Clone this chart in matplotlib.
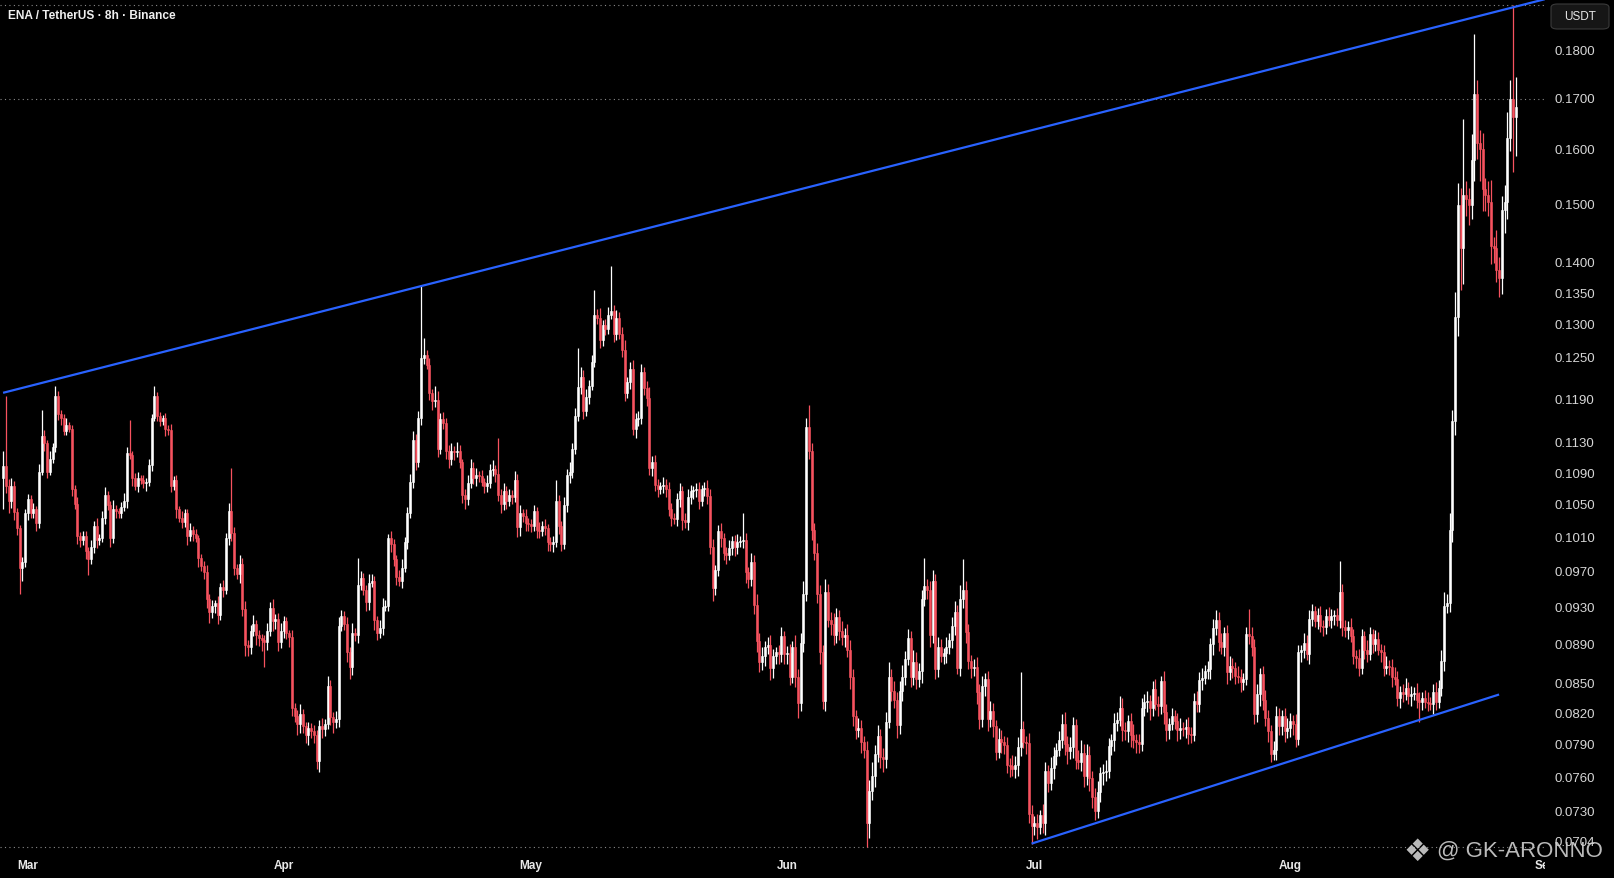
import numpy as np
import matplotlib
matplotlib.use('Agg')
import matplotlib.pyplot as plt
from matplotlib.patches import FancyBboxPatch
from matplotlib.transforms import blended_transform_factory

# ENA/USDT 8h candles, 26 Feb -> 28 Aug, prices in units of 0.0001 USDT
open_first = 1085

close_feb = [1100, 1075, 1055, 1075, 1042, 1022, 975, 982, 1040]
close_mar = [1058, 1040, 1045, 1028, 1093, 1140, 1130, 1093, 1110, 1125,
             1195, 1170, 1165, 1147, 1155, 1150, 1070, 1052, 1013, 1008,
             1013, 995, 985, 1000, 1025, 1008, 1010, 1035, 1063, 1050,
             1010, 1045, 1043, 1040, 1048, 1055, 1117, 1115, 1085, 1075,
             1085, 1082, 1078, 1080, 1102, 1165, 1195, 1168, 1160, 1165,
             1150, 1148, 1075, 1082, 1045, 1035, 1030, 1040, 1012, 1020,
             1015, 1010, 986, 977, 970, 940, 925, 932, 935, 922,
             953, 950, 1010, 1043, 1016, 975, 968, 980, 929, 890,
             888, 905, 912, 900, 897, 895, 893, 905, 930, 915,
             918, 893, 905]
close_apr = [915, 902, 898, 826, 818, 810, 820, 808, 800, 806,
             803, 800, 775, 808, 805, 810, 848, 817, 812, 815,
             910, 921, 912, 882, 867, 903, 900, 955, 963, 950,
             936, 958, 960, 916, 903, 908, 931, 932, 1010, 1003,
             985, 965, 960, 975, 1005, 1040, 1080, 1135, 1105, 1165,
             1250, 1255, 1240, 1200, 1188, 1190, 1122, 1163, 1158, 1120,
             1110, 1120, 1118, 1120, 1105, 1063, 1058, 1078, 1098, 1085,
             1088, 1087, 1080, 1075, 1078, 1095, 1096, 1090, 1063, 1052,
             1068, 1055, 1063, 1060, 1082, 1023, 1040, 1037, 1028, 1027]
close_may = [1025, 1043, 1020, 1018, 1025, 1022, 1005, 1003, 1005, 1055,
             1025, 1003, 1050, 1088, 1093, 1122, 1168, 1208, 1223, 1175,
             1194, 1210, 1245, 1316, 1312, 1277, 1300, 1295, 1316, 1322,
             1287, 1312, 1287, 1262, 1200, 1215, 1235, 1150, 1163, 1165,
             1230, 1207, 1193, 1097, 1105, 1076, 1070, 1074, 1076, 1070,
             1045, 1035, 1033, 1058, 1068, 1032, 1030, 1060, 1068, 1069,
             1070, 1055, 1070, 1072, 1062, 999, 952, 972, 1018, 1010,
             992, 990, 998, 1006, 999, 1005, 1006, 1008, 970, 962,
             982, 933, 894, 872, 878, 888, 890, 866, 878, 882,
             880, 899, 880]
close_jun = [881, 857, 888, 857, 831, 892, 945, 1152, 1120, 1020,
             992, 945, 882, 833, 947, 917, 912, 900, 920, 905,
             898, 900, 885, 857, 818, 804, 806, 793, 786, 720,
             748, 762, 782, 799, 779, 777, 812, 857, 843, 834,
             809, 843, 857, 875, 897, 857, 872, 855, 863, 940,
             954, 950, 900, 960, 865, 888, 878, 881, 888, 895,
             910, 925, 866, 940, 950, 904, 873, 866, 867, 842,
             815, 848, 855, 815, 823, 808, 784, 796, 793, 790,
             772, 771, 768, 772, 788, 805, 793, 792, 728, 718]
close_jul = [720, 717, 727, 720, 766, 755, 769, 780, 786, 795,
             810, 791, 785, 788, 809, 776, 774, 783, 762, 781,
             760, 743, 731, 747, 764, 765, 766, 789, 795, 811,
             814, 826, 804, 803, 813, 800, 795, 793, 791, 826,
             832, 833, 826, 845, 830, 828, 853, 822, 804, 810,
             818, 813, 804, 806, 805, 807, 801, 800, 833, 830,
             854, 856, 863, 865, 891, 908, 917, 893, 888, 903,
             862, 868, 866, 858, 857, 852, 855, 901, 899, 888,
             820, 840, 860, 834, 816, 803, 782, 786, 818, 808,
             818, 803, 806]
close_aug = [813, 810, 796, 882, 884, 892, 880, 918, 926, 915,
             922, 910, 909, 921, 916, 921, 922, 916, 947, 909,
             906, 909, 899, 878, 876, 866, 899, 885, 880, 901,
             891, 896, 885, 882, 866, 868, 867, 857, 855, 836,
             842, 840, 846, 838, 840, 841, 834, 832, 836, 832,
             831, 830, 842, 832, 846, 873, 932, 935, 1020, 1161,
             1313, 1500, 1425, 1518, 1510, 1500, 1582, 1710, 1614, 1603,
             1528, 1518, 1505, 1428, 1425, 1389, 1375, 1490, 1505, 1624,
             1700, 1664, 1684]

# wick length above / below the body, same units
up_feb = [20, 95, 8, 10, 6, 5, 4, 6, 5]
dn_feb = [40, 10, 15, 8, 10, 8, 30, 15, 6]
up_mar = [6, 5, 8, 4, 10, 36, 8, 5, 10, 6,
          15, 8, 6, 5, 10, 4, 5, 6, 8, 4,
          6, 5, 4, 8, 6, 10, 5, 8, 10, 5,
          6, 12, 5, 4, 6, 10, 8, 45, 5, 6,
          8, 4, 6, 5, 8, 5, 15, 6, 5, 4,
          6, 5, 8, 5, 6, 4, 8, 6, 5, 8,
          5, 6, 4, 5, 6, 8, 5, 6, 4, 8,
          5, 8, 6, 10, 54, 8, 5, 10, 6, 8,
          5, 6, 10, 5, 6, 4, 5, 8, 6, 10,
          5, 6, 8]
dn_mar = [8, 6, 5, 10, 6, 5, 10, 8, 5, 6,
          6, 8, 10, 5, 6, 5, 8, 6, 10, 8,
          6, 10, 18, 6, 8, 10, 6, 5, 8, 6,
          10, 6, 8, 5, 6, 5, 8, 6, 10, 6,
          8, 5, 6, 10, 6, 8, 5, 8, 6, 5,
          10, 6, 8, 6, 10, 5, 8, 6, 10, 6,
          8, 5, 10, 6, 8, 10, 12, 6, 8, 10,
          6, 8, 5, 8, 10, 8, 6, 10, 8, 12,
          10, 8, 6, 10, 8, 12, 26, 8, 6, 10,
          8, 10, 6]
up_apr = [6, 5, 4, 8, 5, 6, 10, 5, 4, 6,
          5, 6, 4, 6, 8, 5, 10, 6, 5, 8,
          10, 6, 5, 8, 6, 10, 5, 32, 8, 6,
          5, 10, 8, 6, 5, 8, 10, 6, 5, 8,
          6, 5, 8, 10, 6, 8, 10, 12, 8, 10,
          112, 25, 8, 10, 6, 20, 12, 8, 10, 6,
          8, 10, 6, 12, 8, 5, 8, 10, 12, 8,
          10, 6, 8, 5, 10, 8, 12, 6, 48, 8,
          10, 6, 8, 6, 12, 8, 10, 6, 8, 6]
dn_apr = [8, 6, 10, 8, 6, 10, 8, 6, 8, 10,
          6, 8, 7, 10, 8, 6, 5, 8, 10, 6,
          8, 5, 6, 10, 12, 8, 6, 8, 5, 6,
          10, 8, 5, 10, 8, 6, 8, 5, 6, 10,
          8, 10, 6, 8, 5, 8, 6, 8, 10, 6,
          10, 8, 6, 10, 12, 8, 10, 6, 8, 10,
          12, 8, 10, 6, 8, 10, 12, 8, 6, 8,
          10, 8, 6, 10, 8, 6, 8, 10, 8, 12,
          8, 10, 6, 8, 6, 12, 10, 8, 10, 8]
up_may = [6, 8, 5, 10, 6, 8, 5, 6, 8, 27,
          8, 6, 10, 8, 12, 8, 10, 57, 15, 10,
          12, 8, 10, 40, 10, 15, 8, 10, 12, 73,
          10, 12, 8, 10, 15, 8, 10, 12, 8, 10,
          12, 8, 10, 15, 8, 10, 8, 6, 10, 8,
          10, 8, 6, 8, 10, 6, 8, 10, 8, 6,
          8, 10, 6, 8, 10, 8, 10, 6, 8, 10,
          6, 8, 10, 6, 8, 10, 6, 33, 8, 6,
          10, 8, 12, 8, 10, 6, 8, 10, 8, 6,
          8, 10, 6]
dn_may = [8, 6, 10, 8, 6, 8, 10, 8, 10, 6,
          10, 8, 6, 8, 10, 8, 6, 8, 10, 12,
          8, 10, 6, 8, 10, 12, 8, 10, 8, 6,
          12, 10, 8, 10, 12, 8, 10, 8, 12, 10,
          8, 10, 12, 8, 10, 8, 10, 6, 8, 10,
          8, 10, 6, 8, 10, 12, 8, 10, 8, 10,
          8, 10, 6, 8, 10, 8, 15, 8, 6, 10,
          8, 10, 6, 8, 10, 8, 6, 8, 12, 10,
          8, 10, 12, 10, 8, 10, 8, 12, 10, 8,
          10, 8, 10]
up_jun = [8, 10, 6, 12, 8, 10, 15, 12, 31, 10,
          8, 12, 10, 8, 15, 10, 8, 12, 10, 8,
          10, 8, 12, 10, 8, 6, 10, 8, 6, 8,
          10, 12, 8, 10, 6, 8, 10, 15, 8, 10,
          8, 10, 12, 8, 10, 8, 12, 10, 8, 10,
          32, 8, 10, 12, 8, 10, 8, 6, 10, 8,
          10, 12, 8, 15, 35, 10, 8, 6, 8, 10,
          8, 10, 6, 8, 10, 8, 6, 10, 8, 6,
          8, 6, 10, 8, 10, 57, 8, 6, 10, 8]
dn_jun = [10, 8, 6, 10, 15, 8, 10, 8, 10, 12,
          8, 10, 12, 8, 10, 8, 12, 10, 8, 10,
          8, 10, 8, 12, 10, 8, 6, 10, 8, 20,
          12, 8, 10, 8, 10, 12, 8, 6, 10, 8,
          12, 8, 10, 8, 6, 10, 8, 10, 8, 12,
          8, 10, 12, 8, 10, 8, 6, 8, 10, 8,
          8, 10, 6, 8, 10, 12, 8, 10, 8, 12,
          10, 8, 10, 12, 8, 10, 8, 6, 10, 8,
          8, 10, 6, 8, 10, 8, 6, 10, 8, 15]
up_jul = [6, 8, 5, 10, 8, 6, 10, 8, 6, 8,
          10, 12, 8, 10, 8, 6, 10, 12, 8, 10,
          8, 6, 8, 10, 6, 8, 10, 8, 6, 10,
          8, 12, 10, 8, 6, 8, 10, 6, 8, 10,
          8, 10, 6, 8, 10, 8, 5, 10, 8, 6,
          8, 6, 8, 10, 6, 8, 10, 6, 8, 10,
          8, 10, 6, 8, 6, 10, 11, 8, 10, 6,
          8, 10, 8, 6, 10, 8, 6, 8, 28, 10,
          8, 10, 6, 8, 10, 8, 6, 8, 10, 8,
          6, 8, 10]
dn_jul = [8, 10, 6, 8, 10, 8, 6, 10, 8, 6,
          8, 10, 12, 8, 10, 8, 6, 8, 10, 8,
          12, 10, 8, 6, 8, 10, 8, 6, 8, 10,
          8, 6, 10, 8, 10, 12, 8, 10, 8, 6,
          8, 10, 12, 8, 6, 10, 8, 12, 10, 8,
          6, 8, 10, 8, 6, 8, 10, 8, 6, 8,
          8, 10, 6, 8, 10, 12, 8, 10, 8, 10,
          12, 8, 10, 8, 6, 10, 8, 6, 8, 10,
          10, 8, 12, 10, 8, 10, 8, 6, 10, 8,
          8, 10, 6]
up_aug = [8, 6, 10, 8, 6, 10, 8, 10, 8, 6,
          8, 10, 6, 8, 10, 8, 6, 8, 36, 10,
          8, 6, 10, 8, 6, 10, 8, 6, 10, 8,
          6, 10, 8, 6, 8, 10, 6, 8, 10, 8,
          6, 8, 10, 6, 8, 6, 10, 8, 6, 8,
          10, 6, 8, 10, 8, 12, 15, 10, 20, 15,
          40, 40, 30, 142, 25, 20, 50, 126, 30, 25,
          30, 20, 25, 40, 15, 30, 20, 25, 30, 50,
          40, 200, 61]
dn_aug = [8, 10, 8, 6, 10, 8, 6, 10, 8, 6,
          8, 6, 10, 8, 6, 8, 10, 6, 8, 10,
          8, 10, 6, 8, 10, 8, 6, 10, 8, 6,
          10, 8, 6, 10, 8, 6, 8, 10, 6, 8,
          10, 8, 6, 8, 10, 6, 8, 20, 8, 6,
          8, 6, 10, 8, 6, 8, 10, 8, 10, 15,
          20, 30, 70, 60, 30, 36, 25, 40, 30, 60,
          40, 30, 25, 30, 25, 20, 30, 25, 40, 30,
          25, 104, 74]

month_names = ['Mar', 'Apr', 'May', 'Jun', 'Jul', 'Aug', 'Sep']
month_days = [31, 30, 31, 30, 31, 31]

price_ticks = [0.18, 0.17, 0.16, 0.15, 0.14, 0.135, 0.13, 0.125, 0.119, 0.113,
               0.109, 0.105, 0.101, 0.097, 0.093, 0.089, 0.085, 0.082, 0.079,
               0.076, 0.073, 0.0704]

# trendlines (candle index, price) and dotted price lines
upper_x, upper_y = [0, 565], [0.1200, 0.1921]
lower_x, lower_y = [374, 544], [0.0703, 0.0839]
dotted_prices = [0.1900, 0.1700, 0.0700]

closes = np.concatenate([close_feb, close_mar, close_apr, close_may,
                         close_jun, close_jul, close_aug]) / 1e4
up = np.concatenate([up_feb, up_mar, up_apr, up_may, up_jun, up_jul, up_aug]) / 1e4
dn = np.concatenate([dn_feb, dn_mar, dn_apr, dn_may, dn_jun, dn_jul, dn_aug]) / 1e4
opens = np.r_[open_first / 1e4, closes[:-1]]
highs = np.maximum(opens, closes) + up
lows = np.minimum(opens, closes) - dn
x = np.arange(len(closes))

UP = '#FFFFFF'
DOWN = '#F7525F'
BLUE = '#2962FF'
cols = np.where(closes >= opens, UP, DOWN)

W, H = 1614, 879
fig = plt.figure(figsize=(W / 100, H / 100), dpi=100, facecolor='black')
ax = fig.add_axes([0, 0, 1545 / W, 1])
ax.set_facecolor('black')
ax.set_yscale('log')
ax.set_xlim(-1.11, 560.7)
ax.set_ylim(0.06749, 0.19145)
ax.set_axis_off()

# dotted price lines
for p in dotted_prices:
    ax.axhline(p, color='#8a8a8a', lw=0.8, ls=(0, (1, 3)), zorder=1)

# candles
ax.vlines(x, lows, highs, colors=cols, lw=0.9, zorder=2)
ax.bar(x, np.abs(closes - opens), bottom=np.minimum(opens, closes), width=0.72,
       color=cols, edgecolor=cols, linewidth=0.4, zorder=3)

# trendlines
ax.plot(upper_x, upper_y, color=BLUE, lw=1.6, zorder=4, solid_capstyle='butt')
ax.plot(lower_x, lower_y, color=BLUE, lw=1.6, zorder=4, solid_capstyle='butt')

# month labels along the bottom
starts = len(close_feb) + 3 * np.r_[0, np.cumsum(month_days)]
tb = blended_transform_factory(ax.transData, ax.transAxes)
for name, s in zip(month_names, starts):
    ax.text(s, 1 - 866 / H, name, transform=tb, ha='center', va='center',
            color='#E8E8E8', fontsize=8.5, fontweight='bold',
            family='Liberation Sans', clip_on=True)

# price scale on the right
tr = blended_transform_factory(ax.transAxes, ax.transData)
for p in price_ticks:
    ax.text(1555 / 1545, p, '%.4f' % p, transform=tr, ha='left', va='center',
            color='#D6D6D6', fontsize=9.5, family='Liberation Sans', clip_on=False)

# currency box
box = FancyBboxPatch((1551 / W, 1 - 30 / H), 58 / W, 25 / H,
                     boxstyle='round,pad=0,rounding_size=0.004',
                     transform=fig.transFigure, facecolor='#161616',
                     edgecolor='#3a3a3a', lw=0.8)
fig.patches.append(box)
fig.text(1580 / W, 1 - 17.5 / H, 'USDT', ha='center', va='center',
         color='#E6E6E6', fontsize=8.5, family='Liberation Sans')

# title
fig.text(8 / W, 1 - 16 / H, 'ENA / TetherUS · 8h · Binance', ha='left', va='center',
         color='#F0F0F0', fontsize=8.6, fontweight='bold', family='Liberation Sans')

# watermark
fig.text(1417 / W, 1 - 852 / H, '❖', ha='center', va='center', color='#cfcfcf',
         alpha=0.9, fontsize=22, family=['DejaVu Sans'])
fig.text(1437 / W, 1 - 851 / H, '@ GK-ARONNO', ha='left', va='center', color='#cfcfcf',
         alpha=0.9, fontsize=16, family='Liberation Sans')

fig.savefig('out.png', dpi=100, facecolor='black')
